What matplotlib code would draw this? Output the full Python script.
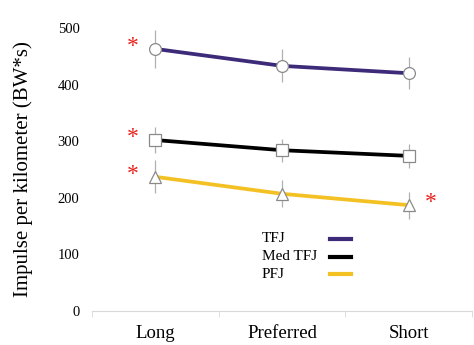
import numpy as np
import matplotlib.pyplot as plt
from matplotlib.lines import Line2D

plt.rcParams['font.family'] = ['Liberation Serif', 'DejaVu Serif']

# categories and values
speeds = ['Long', 'Preferred', 'Short']
tfj = [463, 433, 420]
tfj_err = [34, 29, 28]
med_tfj = [302, 284, 274]
med_tfj_err = [23, 20, 21]
pfj = [237, 207, 187]
pfj_err = [29, 24, 24]

# which points carry a significance star
stars_tfj = [True, False, False]
stars_med = [True, False, False]
stars_pfj = [True, False, True]

fig = plt.figure(figsize=(4.74, 3.45), dpi=100)
ax = fig.add_axes([0.194, 0.0986, 0.802, 0.8204])

x = np.arange(len(speeds))
series = [
    ('TFJ', tfj, tfj_err, '#3d2a78', 'o', stars_tfj),
    ('Med TFJ', med_tfj, med_tfj_err, '#000000', 's', stars_med),
    ('PFJ', pfj, pfj_err, '#f4c125', '^', stars_pfj),
]

for name, vals, errs, col, mk, stars in series:
    ax.errorbar(x, vals, yerr=errs, fmt='none', ecolor='#b0b0b0', elinewidth=0.9,
                capsize=0, zorder=2)
    ax.plot(x, vals, color=col, lw=2.7, zorder=3, solid_capstyle='butt')
    ax.plot(x, vals, ls='none', marker=mk, markersize=8.5, markerfacecolor='white',
            markeredgecolor='#8a8a8a', markeredgewidth=0.9, zorder=4)
    for i, s in enumerate(stars):
        if s:
            dx = -16 if i == 0 else 16
            ax.annotate('*', (x[i], vals[i]), xytext=(dx, 2), textcoords='offset points',
                        ha='center', va='center', color='#e8231f', fontsize=17)

ax.set_xlim(-0.5, 2.5)
ax.set_ylim(0, 500)
ax.set_yticks([0, 100, 200, 300, 400, 500])
ax.set_xticks(x)
ax.set_xticklabels(speeds, fontsize=13.5)
ax.set_xticks([-0.5, 0.5, 1.5, 2.5], minor=True)
ax.tick_params(axis='x', which='major', length=0, pad=10)
ax.tick_params(axis='x', which='minor', length=4, color='#d9d9d9')
ax.tick_params(axis='y', length=0, labelsize=10.5, pad=9)

for side in ['top', 'right', 'left']:
    ax.spines[side].set_visible(False)
ax.spines['bottom'].set_color('#d9d9d9')
ax.spines['bottom'].set_linewidth(0.8)

ax.set_ylabel('Impulse per kilometer (BW*s)', fontsize=15, labelpad=18)

# legend drawn by hand: labels left-aligned, swatches to the right
leg_y = [239, 257, 274]
for (name, _, _, col, _, _), yp in zip(series, leg_y):
    fy = 1 - yp / 345
    fig.text(262 / 474, fy, name, fontsize=11, ha='left', va='center')
    fig.add_artist(Line2D([330 / 474, 351 / 474], [fy, fy], color=col, lw=3,
                          transform=fig.transFigure))

fig.savefig('out.png', dpi=100)
